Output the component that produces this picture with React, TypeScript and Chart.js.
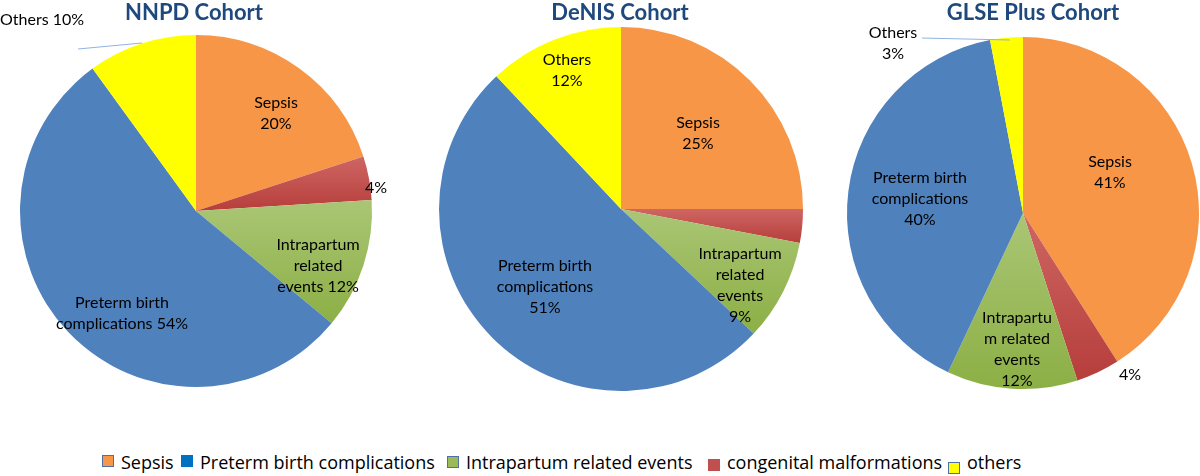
import React, { useEffect, useRef } from "react";
import { Chart, registerables } from "chart.js";

Chart.register(...registerables);

// ---- Data ----
const categories = [
  "Sepsis",
  "congenital malformations",
  "Intrapartum related events",
  "Preterm birth complications",
  "others",
];
const cohortTitles = ["NNPD Cohort", "DeNIS Cohort", "GLSE Plus Cohort"];
const nnpdValues = [20, 4, 12, 54, 10];
const denisValues = [25, 3, 9, 51, 12];
const glseValues = [41, 4, 12, 40, 3];

const legendOrder = [
  "Sepsis",
  "Preterm birth complications",
  "Intrapartum related events",
  "congenital malformations",
  "others",
];

// label line templates ({v} = value)
const nnpdLabelText = [
  ["Sepsis", "{v}%"],
  ["{v}%"],
  ["Intrapartum", "related", "events {v}%"],
  ["Preterm birth", "complications {v}%"],
  ["Others {v}%"],
];
const denisLabelText = [
  ["Sepsis", "{v}%"],
  [],
  ["Intrapartum", "related", "events", "{v}%"],
  ["Preterm birth", "complications", "{v}%"],
  ["Others", "{v}%"],
];
const glseLabelText = [
  ["Sepsis", "{v}%"],
  ["{v}%"],
  ["Intrapartu", "m related", "events", "{v}%"],
  ["Preterm birth", "complications", "{v}%"],
  ["Others", "{v}%"],
];

// ---- Styles ----
const flatColors: Record<string, string> = {
  Sepsis: "#F79646",
  "congenital malformations": "#C0504D",
  "Intrapartum related events": "#9BBB59",
  "Preterm birth complications": "#4F81BD",
  others: "#FFFF00",
};
const gradientColors: Record<string, [string, string]> = {
  "congenital malformations": ["#CE6663", "#B63E3B"],
  "Intrapartum related events": ["#AAC675", "#8CAF45"],
};
const legendSwatch: Record<string, string> = {
  Sepsis: "#F79646",
  "Preterm birth complications": "#0070C0",
  "Intrapartum related events": "#9BBB59",
  "congenital malformations": "#C0504D",
  others: "#FFFF00",
};

type LabelPos = { dx: number; dy: number; align?: CanvasTextAlign };
type Leader = { from: [number, number]; to: [number, number] };

interface PieCfg {
  title: string;
  values: number[];
  text: string[][];
  pos: (LabelPos | null)[];
  leader?: Leader;
  left: number;
  width: number;
  padding: { left: number; right: number; top: number; bottom: number };
  titleX: number;
}

const pies: PieCfg[] = [
  {
    title: cohortTitles[0],
    values: nnpdValues,
    text: nnpdLabelText,
    pos: [
      { dx: 80, dy: -98 },
      { dx: 180, dy: -23 },
      { dx: 122, dy: 55 },
      { dx: -74, dy: 102 },
      { dx: -196, dy: -191, align: "left" },
    ],
    leader: { from: [-118, -162], to: [-54, -168] },
    left: 0,
    width: 400,
    padding: { left: 20, right: 28, top: 35, bottom: 53 },
    titleX: 194,
  },
  {
    title: cohortTitles[1],
    values: denisValues,
    text: denisLabelText,
    pos: [
      { dx: 77, dy: -76 },
      null,
      { dx: 119, dy: 76 },
      { dx: -76, dy: 78 },
      { dx: -54, dy: -139 },
    ],
    left: 410,
    width: 410,
    padding: { left: 29, right: 17, top: 27, bottom: 49 },
    titleX: 210,
  },
  {
    title: cohortTitles[2],
    values: glseValues,
    text: glseLabelText,
    pos: [
      { dx: 87, dy: -41 },
      { dx: 107, dy: 162 },
      { dx: -6, dy: 136 },
      { dx: -103, dy: -14 },
      { dx: -130, dy: -170 },
    ],
    leader: { from: [-101, -175], to: [-13, -173] },
    left: 800,
    width: 400,
    padding: { left: 47, right: 1, top: 37, bottom: 51 },
    titleX: 233,
  },
];

const CANVAS_H = 440;
const LINE_H = 21;
const FONT = "Lato, 'Open Sans', sans-serif";
const LEGEND_FONT = "'Open Sans', Lato, sans-serif";

function sliceYRange(values: number[], i: number, cy: number, r: number) {
  const total = values.reduce((a, b) => a + b, 0);
  let cum = 0;
  for (let k = 0; k < i; k++) cum += values[k];
  const a0 = -Math.PI / 2 + (2 * Math.PI * cum) / total;
  const a1 = a0 + (2 * Math.PI * values[i]) / total;
  let ymin = cy;
  let ymax = cy;
  const n = 60;
  for (let t = 0; t <= n; t++) {
    const a = a0 + ((a1 - a0) * t) / n;
    const y = cy + r * Math.sin(a);
    ymin = Math.min(ymin, y);
    ymax = Math.max(ymax, y);
  }
  return [ymin, ymax];
}

function PieChart({ cfg }: { cfg: PieCfg }) {
  const ref = useRef<HTMLCanvasElement | null>(null);
  useEffect(() => {
    if (!ref.current) return;
    const labelPlugin = {
      id: "pieLabels",
      afterDraw(chart: any) {
        const ctx = chart.ctx as CanvasRenderingContext2D;
        const arc = chart.getDatasetMeta(0).data[0];
        if (!arc) return;
        const cx = arc.x;
        const cy = arc.y;
        ctx.save();
        // title
        ctx.fillStyle = "#1F497D";
        ctx.font = `bold 22px ${FONT}`;
        ctx.textAlign = "center";
        ctx.textBaseline = "middle";
        ctx.fillText(cfg.title, cfg.titleX, 13);
        // leader line
        if (cfg.leader) {
          ctx.strokeStyle = "#8EB4E3";
          ctx.lineWidth = 1;
          ctx.beginPath();
          ctx.moveTo(cx + cfg.leader.from[0], cy + cfg.leader.from[1]);
          ctx.lineTo(cx + cfg.leader.to[0], cy + cfg.leader.to[1]);
          ctx.stroke();
        }
        // labels
        ctx.fillStyle = "#000";
        ctx.font = `16px ${FONT}`;
        cfg.values.forEach((v, i) => {
          const p = cfg.pos[i];
          const lines = cfg.text[i];
          if (!p || !lines || !lines.length) return;
          ctx.textAlign = p.align || "center";
          const n = lines.length;
          lines.forEach((ln, j) => {
            const y = cy + p.dy + (j - (n - 1) / 2) * LINE_H;
            ctx.fillText(ln.replace("{v}", String(v)), cx + p.dx, y);
          });
        });
        ctx.restore();
      },
    };

    const chart = new Chart(ref.current, {
      type: "pie",
      data: {
        labels: categories,
        datasets: [
          {
            data: cfg.values,
            borderWidth: 0,
            hoverBorderWidth: 0,
            offset: 0,
            hoverOffset: 0,
            backgroundColor: (c: any) => {
              const name = categories[c.dataIndex];
              const flat = flatColors[name];
              const grad = gradientColors[name];
              const area = c.chart.chartArea;
              if (!grad || !area || c.dataIndex === undefined) return flat;
              const cyy = (area.top + area.bottom) / 2;
              const r = Math.min(area.right - area.left, area.bottom - area.top) / 2;
              const [y0, y1] = sliceYRange(cfg.values, c.dataIndex, cyy, r);
              const g = c.chart.ctx.createLinearGradient(0, y0, 0, Math.max(y1, y0 + 1));
              g.addColorStop(0, grad[0]);
              g.addColorStop(1, grad[1]);
              return g;
            },
          } as any,
        ],
      },
      options: {
        responsive: false,
        animation: false,
        events: [],
        layout: { padding: cfg.padding },
        plugins: {
          legend: { display: false },
          tooltip: { enabled: false },
          title: { display: false },
        },
      },
      plugins: [labelPlugin],
    });
    return () => chart.destroy();
  }, [cfg]);

  return (
    <canvas
      ref={ref}
      width={cfg.width}
      height={CANVAS_H}
      style={{
        position: "absolute",
        left: cfg.left,
        top: 0,
        width: cfg.width,
        height: CANVAS_H,
      }}
    />
  );
}

const legendX = [102, 181, 447, 708, 948];
const legendSwatchY = [455, 455, 456, 459, 462];

export default function App() {
  return (
    <div
      style={{
        position: "absolute",
        left: 0,
        top: 0,
        width: 1200,
        height: 476,
        background: "#fff",
        overflow: "hidden",
        fontFamily: FONT,
      }}
    >
      {pies.map((p, i) => (
        <PieChart key={i} cfg={p} />
      ))}
      {legendOrder.map((name, i) => (
        <div key={name}>
          <div
            style={{
              position: "absolute",
              left: legendX[i],
              top: legendSwatchY[i],
              width: 12,
              height: 12,
              background: legendSwatch[name],
              border:
                name === "Preterm birth complications" || name === "congenital malformations"
                  ? "none"
                  : "1px solid #4F6FA8",
              boxSizing: "border-box",
            }}
          />
          <div
            style={{
              position: "absolute",
              left: legendX[i] + 19,
              top: 450,
              fontFamily: LEGEND_FONT,
              fontSize: 18,
              lineHeight: "25px",
              color: "#000",
              whiteSpace: "nowrap",
            }}
          >
            {name}
          </div>
        </div>
      ))}
    </div>
  );
}
